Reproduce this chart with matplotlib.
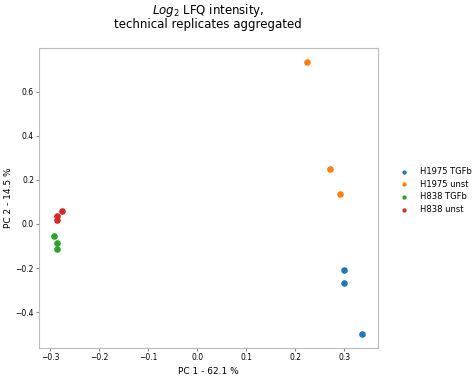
import matplotlib
matplotlib.use("Agg")
import matplotlib.pyplot as plt

# PCA scores
groups = ['H1975 TGFb', 'H1975 unst', 'H838 TGFb', 'H838 unst']
colors = ['#1f77b4', '#ff7f0e', '#2ca02c', '#d62728']
pc1 = {
    'H1975 TGFb': [0.300, 0.300, 0.337],
    'H1975 unst': [0.223, 0.270, 0.292],
    'H838 TGFb':  [-0.292, -0.286, -0.286],
    'H838 unst':  [-0.276, -0.286, -0.286],
}
pc2 = {
    'H1975 TGFb': [-0.209, -0.268, -0.500],
    'H1975 unst': [0.736, 0.250, 0.136],
    'H838 TGFb':  [-0.056, -0.085, -0.112],
    'H838 unst':  [0.059, 0.036, 0.017],
}

fig = plt.figure(figsize=(4.74, 3.77), dpi=100)
ax = fig.add_axes([0.082, 0.077, 0.715, 0.796])

for g, c in zip(groups, colors):
    ax.scatter(pc1[g], pc2[g], color=c, s=14, label=g)

for s in ax.spines.values():
    s.set_color('#bbbbbb')
ax.tick_params(labelsize=5.5, length=2, pad=1.5, color='#888888')
ax.set_xlabel('PC 1 - 62.1 %', fontsize=6.5, labelpad=4)
ax.set_ylabel('PC 2 - 14.5 %', fontsize=6.5, labelpad=2)
ax.set_title('$Log_2$ LFQ intensity,\ntechnical replicates aggregated',
             fontsize=8.5, pad=14, linespacing=0.95)
ax.legend(loc='center left', bbox_to_anchor=(1.03, 0.525), frameon=False,
          fontsize=6, handletextpad=0.9, markerscale=0.55, labelspacing=0.45)

fig.savefig('out.png', dpi=100)
